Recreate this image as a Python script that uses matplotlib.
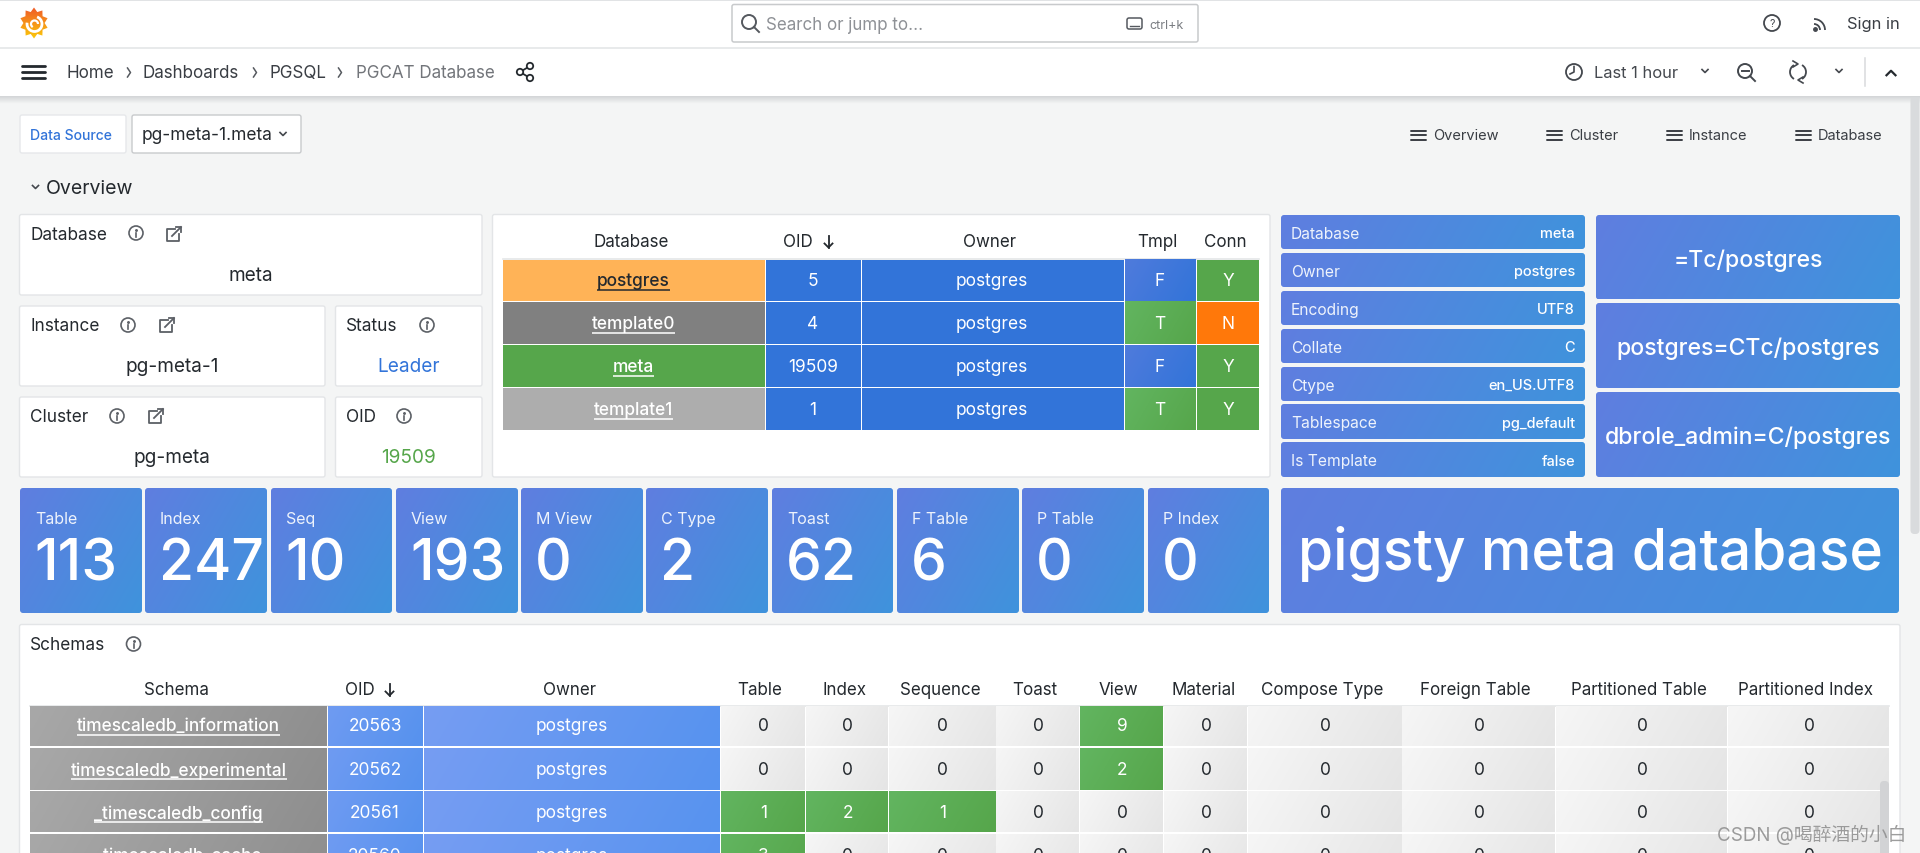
import numpy as np
import matplotlib
matplotlib.use('Agg')
import matplotlib.pyplot as plt
from matplotlib.patches import FancyBboxPatch, Rectangle, Circle, Polygon, Arc
from matplotlib.colors import to_rgb

plt.rcParams['font.family'] = ['Inter', 'Noto Sans CJK SC', 'DejaVu Sans']

# ---- values ----
DB_NAMES = ['postgres', 'template0', 'meta', 'template1']
DB_OIDS = ['5', '4', '19509', '1']
DB_OWNERS = ['postgres', 'postgres', 'postgres', 'postgres']
DB_TMPL = ['F', 'T', 'F', 'T']
DB_CONN = ['Y', 'N', 'Y', 'Y']
DB_HEADERS = ['Database', 'OID', 'Owner', 'Tmpl', 'Conn']

INFO_KEYS = ['Database', 'Owner', 'Encoding', 'Collate', 'Ctype', 'Tablespace', 'Is Template']
INFO_VALUES = ['meta', 'postgres', 'UTF8', 'C', 'en_US.UTF8', 'pg_default', 'false']
ACL_ITEMS = ['=Tc/postgres', 'postgres=CTc/postgres', 'dbrole_admin=C/postgres']

STAT_LABELS = ['Table', 'Index', 'Seq', 'View', 'M View', 'C Type', 'Toast', 'F Table', 'P Table', 'P Index']
STAT_VALUES = [113, 247, 10, 193, 0, 2, 62, 6, 0, 0]

SCHEMA_HEADERS = ['Schema', 'OID', 'Owner', 'Table', 'Index', 'Sequence', 'Toast', 'View', 'Material',
                  'Compose Type', 'Foreign Table', 'Partitioned Table', 'Partitioned Index']
SCHEMA_NAMES = ['timescaledb_information', 'timescaledb_experimental', '_timescaledb_config', '_timescaledb_cache']
SCHEMA_OIDS = ['20563', '20562', '20561', '20560']
SCHEMA_OWNERS = ['postgres', 'postgres', 'postgres', 'postgres']
SCHEMA_COUNTS = [
    [0, 0, 0, 0, 9, 0, 0, 0, 0, 0],
    [0, 0, 0, 0, 2, 0, 0, 0, 0, 0],
    [1, 2, 1, 0, 0, 0, 0, 0, 0, 0],
    [3, 0, 0, 0, 0, 0, 0, 0, 0, 0],
]

# ---- colours ----
BG = '#f4f5f5'
BORDER = '#e3e5e7'
TEXT = '#24292e'
BLUE = '#3274d9'
GREEN = '#56a64b'
TILE = ('#5f7ee0', '#3f93dc')
DB_COLORS = {'postgres': '#ffb357', 'template0': '#808080', 'meta': '#56a64b', 'template1': '#adadad'}

fig = plt.figure(figsize=(19.2, 8.54), dpi=100, facecolor=BG)
ax = fig.add_axes([0, 0, 1, 1])
ax.set_xlim(0, 1920)
ax.set_ylim(854, 0)
ax.axis('off')
ax.set_autoscale_on(False)


def label(x, y, s, px=16, color=TEXT, ha='left', weight='normal', **kw):
    # text sits a touch high with va=center, so nudge it down
    return ax.text(x, y + 1.2, s, fontsize=px * 0.72, color=color, ha=ha, va='center', fontweight=weight, zorder=6, **kw)


def underlined(x, y, s, px, color, weight='medium'):
    t = label(x, y, s, px, color, 'center', weight)
    bb = t.get_window_extent(fig.canvas.get_renderer())
    ax.plot([bb.x0, bb.x1], [y + px * 0.55 + 0.5, y + px * 0.55 + 0.5], color=color, lw=1.1, zorder=6, solid_capstyle='butt')


def grad(x0, y0, x1, y1, c0, c1, radius=0, zorder=3):
    w, h = x1 - x0, y1 - y0
    gx, gy = np.meshgrid(np.linspace(0, w, 48), np.linspace(0, h, 48))
    t = (gx * 0.866 + gy * 0.5) / (w * 0.866 + h * 0.5)
    a, b = np.array(to_rgb(c0)), np.array(to_rgb(c1))
    img = a[None, None, :] * (1 - t[..., None]) + b[None, None, :] * t[..., None]
    im = ax.imshow(img, extent=(x0, x1, y1, y0), aspect='auto', interpolation='bilinear', zorder=zorder)
    if radius:
        clip = FancyBboxPatch((x0, y0), w, h, boxstyle=f'round,pad=0,rounding_size={radius}',
                              transform=ax.transData, fc='none', ec='none')
        ax.add_patch(clip)
        im.set_clip_path(clip)


def box(x0, y0, x1, y1, fc='white', ec=BORDER, radius=2, lw=1.0, zorder=2):
    ax.add_patch(FancyBboxPatch((x0, y0), x1 - x0, y1 - y0, boxstyle=f'round,pad=0,rounding_size={radius}',
                                fc=fc, ec=ec, lw=lw, zorder=zorder))


def cell(x0, y0, x1, y1, color):
    ax.add_patch(Rectangle((x0, y0), x1 - x0, y1 - y0, fc=color, ec='none', zorder=3))


def info_icon(x, y, r=7):
    ax.add_patch(Circle((x, y), r, fc='none', ec='#5c6066', lw=1.2, zorder=6))
    ax.plot([x, x], [y - 0.5, y + 3.5], color='#5c6066', lw=1.2, zorder=6)
    ax.plot([x], [y - 3], '.', color='#5c6066', ms=2.2, zorder=6)


def ext_icon(x, y):
    c = '#5c6066'
    ax.plot([x + 1, x - 7, x - 7, x + 5, x + 5], [y - 5, y - 5, y + 7, y + 7, y + 0], color=c, lw=1.3, zorder=6)
    ax.plot([x - 2, x + 7], [y + 2, y - 7], color=c, lw=1.3, zorder=6)
    ax.plot([x + 2, x + 7, x + 7], [y - 7, y - 7, y - 2], color=c, lw=1.3, zorder=6)


def menu_icon(x0, x1, y, gap=5, lw=1.5, color='#3a3e44'):
    for k in (-1, 0, 1):
        ax.plot([x0, x1], [y + k * gap, y + k * gap], color=color, lw=lw, zorder=6, solid_capstyle='round')


def chevron(x, y, s=3, color='#44484e', up=False, lw=1.2):
    d = -s if up else s
    ax.plot([x - s, x, x + s], [y - d / 2, y + d / 2, y - d / 2], color=color, lw=lw, zorder=6)


def down_arrow(x, y):
    ax.plot([x, x], [y - 6, y + 6], color=TEXT, lw=1.3, zorder=6)
    ax.plot([x - 4, x, x + 4], [y + 2, y + 6, y + 2], color=TEXT, lw=1.3, zorder=6)


def magnifier(x, y, color, minus=False, r=7):
    ax.add_patch(Circle((x, y), r, fc='none', ec=color, lw=1.4, zorder=6))
    ax.plot([x + r * 0.7, x + r + 3], [y + r * 0.7, y + r + 3], color=color, lw=1.4, zorder=6)
    if minus:
        ax.plot([x - 3.5, x + 3.5], [y, y], color=color, lw=1.4, zorder=6)


def logo(cx, cy):
    ang = np.linspace(0, 2 * np.pi, 20, endpoint=False) - np.pi / 2
    rad = np.where(np.arange(20) % 2 == 0, 15.5, 11.5)
    star = Polygon(np.c_[cx + rad * np.cos(ang) * 0.92, cy + rad * np.sin(ang)], fc='none', ec='none', transform=ax.transData)
    ax.add_patch(star)
    gy = np.linspace(0, 1, 32)[:, None]
    a, b = np.array(to_rgb('#f05a28')), np.array(to_rgb('#fbca0a'))
    img = (a * (1 - gy) + b * gy)[:, None, :]
    im = ax.imshow(img, extent=(cx - 15, cx + 15, cy + 16, cy - 16), aspect='auto', zorder=4)
    im.set_clip_path(star)
    ax.add_patch(Arc((cx + 0.5, cy + 1), 15, 15, theta1=-70, theta2=190, ec='white', lw=2.0, zorder=5))
    ax.add_patch(Arc((cx + 0.5, cy + 1), 7, 7, theta1=120, theta2=360, ec='white', lw=1.6, zorder=5))


# ---- top bars ----
ax.add_patch(Rectangle((0, 0), 1920, 97, fc='white', ec='none', zorder=1))
ax.plot([0, 1920], [0.5, 0.5], color='#dcdee0', lw=1.2, zorder=2)
ax.plot([0, 1920], [48.5, 48.5], color='#e4e6e8', lw=1.2, zorder=2)
shade = np.linspace(0, 1, 10)[:, None, None] * (np.array(to_rgb(BG)) - np.array(to_rgb('#d4d6d8'))) + np.array(to_rgb('#d4d6d8'))
ax.imshow(shade, extent=(0, 1920, 105, 97), aspect='auto', zorder=1)
logo(34, 24)
box(732, 5.5, 1198, 43, ec='#c8cacc', radius=2, lw=1.1)
magnifier(749, 23, '#55595f')
label(766, 24, 'Search or jump to...', 17, '#8e9196')
ax.add_patch(FancyBboxPatch((1127, 19), 15, 11, boxstyle='round,pad=0,rounding_size=2', fc='none', ec='#55595f', lw=1.1, zorder=6))
ax.plot([1130, 1139], [27, 27], color='#55595f', lw=1.0, zorder=6)
label(1149, 24.5, 'ctrl+k', 12.5, '#7a7d82')
ax.add_patch(Circle((1772, 24), 8, fc='none', ec='#44484e', lw=1.3, zorder=6))
label(1772, 23, '?', 10.5, '#44484e', 'center')
for r in (6, 11):
    ax.add_patch(Arc((1814, 31), 2 * r, 2 * r, theta1=-90, theta2=0, ec='#44484e', lw=1.3, zorder=6))
ax.plot([1815], [30], 'o', color='#44484e', ms=2.5, zorder=6)
label(1847, 23.5, 'Sign in', 16.5, '#3a3e44')

menu_icon(22, 45, 73, gap=6, lw=2.0, color='#24292e')
for x, s, c in [(67, 'Home', '#3a3e44'), (143, 'Dashboards', '#3a3e44'), (269.5, 'PGSQL', '#3a3e44'), (355.5, 'PGCAT Database', '#72757a')]:
    label(x, 72.5, s, 17.0, c)
for x in (129, 255, 340):
    ax.plot([x - 1.5, x + 1.5, x - 1.5], [69, 73.5, 78], color='#55595f', lw=1.1, zorder=6)
for px_, py_ in [(520, 73), (530, 67), (530, 79)]:
    ax.add_patch(Circle((px_, py_), 3.2, fc='white', ec='#24292e', lw=1.3, zorder=7))
ax.plot([530, 520, 530], [67, 73, 79], color='#24292e', lw=1.3, zorder=6)

ax.add_patch(Circle((1574, 73), 8, fc='none', ec='#44484e', lw=1.3, zorder=6))
ax.plot([1574, 1574, 1570], [67.5, 73, 75], color='#44484e', lw=1.2, zorder=6)
label(1594, 72.5, 'Last 1 hour', 16.5, '#44484e')
chevron(1705, 72)
magnifier(1745, 72, '#44484e', minus=True)
ax.add_patch(Arc((1798, 73), 16, 16, theta1=-60, theta2=60, ec='#44484e', lw=1.3, zorder=6))
ax.add_patch(Arc((1798, 73), 16, 16, theta1=120, theta2=240, ec='#44484e', lw=1.3, zorder=6))
ax.plot([1793, 1798, 1793], [62, 65, 68], color='#44484e', lw=1.2, zorder=6)
ax.plot([1803, 1798, 1803], [78, 81, 84], color='#44484e', lw=1.2, zorder=6)
chevron(1839, 72)
ax.plot([1864.5, 1864.5], [59, 87], color='#d8dadc', lw=1.1, zorder=6)
chevron(1891, 74, s=4.5, color='#24292e', up=True, lw=1.6)

# ---- toolbar row ----
box(20, 116, 126, 154, ec='#e6e8ea')
label(30.5, 134.5, 'Data Source', 14, BLUE, weight='medium')
box(132, 116, 301, 154, ec='#c8cacc')
label(142, 134.5, 'pg-meta-1.meta', 17.4, TEXT)
chevron(283, 135)
for ix, tx, s in [(1411, 1433, 'Overview'), (1547, 1569, 'Cluster'), (1667, 1689, 'Instance'), (1796, 1818, 'Database')]:
    menu_icon(ix, ix + 15, 136, gap=4.5, lw=1.4)
    label(tx, 134.5, s, 14.6, '#3a3e44')
chevron(35.5, 188)
label(46, 187.5, 'Overview', 19.5, TEXT)

# ---- single value panels ----
box(19.5, 215.5, 482, 296)
label(30, 234.5, 'Database', 17.2)
info_icon(136, 234)
ext_icon(174, 235)
label(250.5, 274.5, 'meta', 19, TEXT, 'center')

box(19.5, 307, 325, 387)
label(30, 325.5, 'Instance', 17.2)
info_icon(128, 326)
ext_icon(167, 326)
label(172, 365.5, 'pg-meta-1', 19, TEXT, 'center')

box(335.5, 307, 482, 387)
label(346, 325.5, 'Status', 17.2)
info_icon(427, 326)
label(409, 365.5, 'Leader', 19, BLUE, 'center')

box(19.5, 398, 325, 478)
label(30, 416.5, 'Cluster', 17.2)
info_icon(117, 417)
ext_icon(156, 417)
label(172, 456.5, 'pg-meta', 19, TEXT, 'center')

box(335.5, 398, 482, 478)
label(346, 416.5, 'OID', 17.2)
info_icon(404, 417)
label(409, 456.5, '19509', 19, GREEN, 'center')

# ---- database table ----
box(492.5, 215.5, 1270, 478)
db_edges = [503, 765.5, 861, 1124, 1196, 1259]
db_rows = [260, 302.5, 345.5, 388.5, 431.5]
ax.plot([503, 1259], [259.5, 259.5], color='#e4e6e8', lw=1.2, zorder=3)
for x, s in zip([631, 798, 990, 1157.5, 1225.5], DB_HEADERS):
    label(x, 241.5, s, 17, TEXT, 'center')
down_arrow(828.5, 242.5)
for i, name in enumerate(DB_NAMES):
    y0, y1 = db_rows[i] + 0.5, db_rows[i + 1] - 0.5
    ym = (y0 + y1) / 2 - 0.5
    cell(db_edges[0], y0, db_edges[1] - 0.5, y1, DB_COLORS[name])
    cell(db_edges[1] + 0.5, y0, db_edges[2] - 0.5, y1, BLUE)
    cell(db_edges[2] + 0.5, y0, db_edges[3] - 0.5, y1, BLUE)
    if DB_TMPL[i] == 'F':
        grad(db_edges[3] + 0.5, y0, db_edges[4] - 0.5, y1, '#4f7bdc', BLUE)
    else:
        grad(db_edges[3] + 0.5, y0, db_edges[4] - 0.5, y1, '#62b560', GREEN)
    cell(db_edges[4] + 0.5, y0, db_edges[5], y1, GREEN if DB_CONN[i] == 'Y' else '#ff780a')
    underlined(633.5, ym, name, 17.3, TEXT if name == 'postgres' else 'white')
    label(813, ym, DB_OIDS[i], 17.3, 'white', 'center')
    label(992, ym, DB_OWNERS[i], 17.3, 'white', 'center')
    label(1159.5, ym, DB_TMPL[i], 17.3, 'white', 'center')
    label(1228, ym, DB_CONN[i], 17.3, 'white', 'center')

# ---- info tiles ----
info_y = [(216, 250), (254, 288), (292, 326), (330, 364), (368, 402), (405, 440), (443, 478)]
for (y0, y1), k, v in zip(info_y, INFO_KEYS, INFO_VALUES):
    grad(1281, y0, 1585, y1, *TILE, radius=3)
    label(1291, (y0 + y1) / 2, k, 15.6, '#eef3fc')
    label(1575, (y0 + y1) / 2, v, 14.6, 'white', 'right', weight='medium')

acl_y = [(216, 300.5), (304, 389), (393, 478)]
for (y0, y1), s in zip(acl_y, ACL_ITEMS):
    grad(1596, y0, 1900, y1, *TILE, radius=3)
    label(1748, (y0 + y1) / 2 + 1.5, s, 23.0, 'white', 'center', weight='medium')

# ---- stat tiles ----
stat_x = [(20, 142), (145, 267), (271, 392), (396, 518), (521, 643), (646, 768), (772, 893), (897, 1019), (1022, 1144), (1148, 1269)]
for (x0, x1), k, v in zip(stat_x, STAT_LABELS, STAT_VALUES):
    grad(x0, 489, x1, 614, *TILE, radius=3)
    label(x0 + 15, 518, k, 16, '#eef3fc')
    label(x0 + 14, 564, str(v), 57, 'white', weight='medium')
grad(1281, 489, 1899, 614, *TILE, radius=3)
label(1590, 552.5, 'pigsty meta database', 57, 'white', 'center', weight='medium')

# ---- schemas table ----
box(19.5, 625.5, 1900, 900)
label(30, 644.5, 'Schemas', 17.2)
info_icon(133.5, 645)
sc_edges = [30, 327.5, 423, 720, 805, 888, 995.5, 1079, 1163, 1247, 1401.5, 1555, 1727, 1889]
sc_rows = [708, 749, 792.5, 835, 890]
sc_text_y = [725.8, 769.8, 812.8, 855.8]
header_x = [176, 359.5, 569.5, 760, 844, 940, 1034.5, 1118.5, 1203.5, 1322, 1475.5, 1638.5, 1806]
for x, s in zip(header_x, SCHEMA_HEADERS):
    label(x, 689.5, s, 17, TEXT, 'center')
down_arrow(389.5, 690.5)
ax.plot([30, 1889], [707, 707], color='#e4e6e8', lw=1.2, zorder=3)
for i, name in enumerate(SCHEMA_NAMES):
    # leave a clear pixel between rows
    y0, y1 = sc_rows[i], sc_rows[i + 1] - 1.6
    ym = sc_text_y[i]
    grad(sc_edges[0], y0, sc_edges[1] - 0.5, y1, '#a8a8a8', '#8e8e8e')
    grad(sc_edges[1] + 0.5, y0, sc_edges[2] - 0.5, y1, '#6f9bf2', '#5692ee')
    grad(sc_edges[2] + 0.5, y0, sc_edges[3] - 0.5, y1, '#769df3', '#5793ef')
    underlined(178.5, ym, name, 17.3, 'white')
    label(375, ym, SCHEMA_OIDS[i], 17.3, 'white', 'center')
    label(572, ym, SCHEMA_OWNERS[i], 17.3, 'white', 'center')
    for j, v in enumerate(SCHEMA_COUNTS[i]):
        x0, x1 = sc_edges[3 + j] + 0.5, sc_edges[4 + j] - 0.5
        if v > 0:
            grad(x0, y0, x1, y1, '#62b560', GREEN)
        else:
            grad(x0, y0, x1, y1, '#f6f6f6', '#e5e5e5')
        label((x0 + x1) / 2 + 1, ym, str(v), 17.3, 'white' if v > 0 else TEXT, 'center')

# scrollbars and watermark
box(1880, 782, 1889, 900, fc='#d2d3d5', ec='none', radius=4, zorder=5)
box(1910.5, 98, 1919.5, 535, fc='#d9dbdd', ec='none', radius=4, zorder=5)
label(1906, 833.8, 'CSDN @喝醉酒的小白', 18.8, '#8c8c8c', 'right', alpha=0.85)

fig.savefig('out.png', dpi=100)
